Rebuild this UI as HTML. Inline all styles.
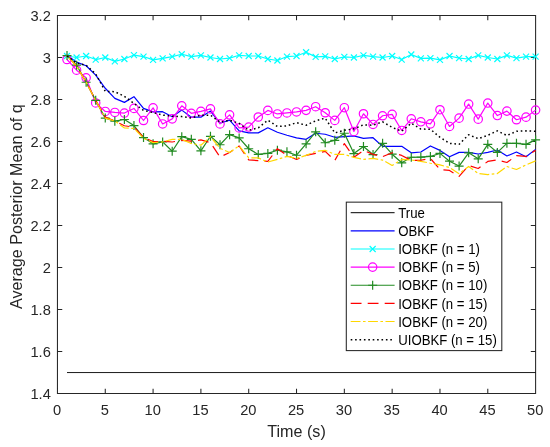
<!DOCTYPE html>
<html lang="en"><head><meta charset="utf-8"><title>Average Posterior Mean of q</title>
<style>html,body{margin:0;padding:0;background:#fff;}body{width:550px;height:447px;overflow:hidden;}figure{margin:0;padding:0;width:550px;height:447px;}</style>
</head><body>
<figure>
<svg role="img" aria-label="Average posterior mean of q versus time" width="550" height="447" viewBox="0 0 550 447" style="display:block;font-family:'Liberation Sans', Arial, Helvetica, sans-serif">
<rect x="0" y="0" width="550" height="447" fill="#fff"/>
<path d="M57.45 15.5H535.6V393.55H57.45ZM105.27 393.55V388.75M105.27 15.5V20.30M153.08 393.55V388.75M153.08 15.5V20.30M200.90 393.55V388.75M200.90 15.5V20.30M248.71 393.55V388.75M248.71 15.5V20.30M296.52 393.55V388.75M296.52 15.5V20.30M344.34 393.55V388.75M344.34 15.5V20.30M392.15 393.55V388.75M392.15 15.5V20.30M439.97 393.55V388.75M439.97 15.5V20.30M487.78 393.55V388.75M487.78 15.5V20.30M57.45 351.54H62.25M535.6 351.54H530.80M57.45 309.54H62.25M535.6 309.54H530.80M57.45 267.53H62.25M535.6 267.53H530.80M57.45 225.53H62.25M535.6 225.53H530.80M57.45 183.52H62.25M535.6 183.52H530.80M57.45 141.52H62.25M535.6 141.52H530.80M57.45 99.51H62.25M535.6 99.51H530.80M57.45 57.51H62.25M535.6 57.51H530.80" stroke="#262626" stroke-width="1.05" fill="none"/>
<g fill="none" stroke-linejoin="round">
<path d="M67.01 372.55H535.60" stroke="#000" stroke-width="0.9"/>
<polyline points="67.01,55.62 76.58,62.10 86.14,65.73 95.70,75.19 105.27,88.28 114.83,98.35 124.39,102.38 133.95,96.74 143.52,108.42 153.08,111.84 162.64,111.72 172.21,116.78 181.77,110.11 191.33,117.16 200.90,117.16 210.46,111.11 220.02,123.20 229.58,120.18 239.15,130.87 248.71,132.89 258.27,132.89 267.84,127.83 277.40,132.26 286.96,135.28 296.52,137.90 306.09,139.31 315.65,133.27 325.21,134.27 334.78,137.29 344.34,136.69 353.90,135.88 363.47,138.30 373.03,137.70 382.59,146.35 392.15,146.35 401.72,146.35 411.28,152.80 420.84,151.99 430.41,145.95 439.97,150.38 449.53,156.83 459.10,152.40 468.66,152.40 478.22,154.01 487.78,152.40 497.35,149.98 506.91,156.02 516.47,151.99 526.04,156.83 535.60,149.37" stroke="#0000ff" stroke-width="1.2"/>
<polyline points="67.01,55.98 76.58,57.48 86.14,55.98 95.70,59.58 105.27,57.48 114.83,61.38 124.39,58.98 133.95,55.08 143.52,56.58 153.08,59.88 162.64,58.38 172.21,56.58 181.77,54.22 191.33,56.58 200.90,55.38 210.46,57.48 220.02,58.98 229.58,58.08 239.15,55.32 248.71,55.98 258.27,55.98 267.84,58.98 277.40,60.48 286.96,56.58 296.52,55.98 306.09,52.24 315.65,56.88 325.21,56.40 334.78,58.98 344.34,56.88 353.90,57.48 363.47,55.38 373.03,56.58 382.59,57.48 392.15,55.98 401.72,59.58 411.28,54.48 420.84,58.38 430.41,58.08 439.97,59.88 449.53,55.98 459.10,58.08 468.66,58.98 478.22,55.38 487.78,57.48 497.35,58.98 506.91,55.38 516.47,58.08 526.04,56.58 535.60,56.58" stroke="#00ffff" stroke-width="1.15"/>
<path d="M64.01 52.98L70.01 58.98M64.01 58.98L70.01 52.98M73.58 54.48L79.58 60.48M73.58 60.48L79.58 54.48M83.14 52.98L89.14 58.98M83.14 58.98L89.14 52.98M92.70 56.58L98.70 62.58M92.70 62.58L98.70 56.58M102.27 54.48L108.27 60.48M102.27 60.48L108.27 54.48M111.83 58.38L117.83 64.38M111.83 64.38L117.83 58.38M121.39 55.98L127.39 61.98M121.39 61.98L127.39 55.98M130.95 52.08L136.95 58.08M130.95 58.08L136.95 52.08M140.52 53.58L146.52 59.58M140.52 59.58L146.52 53.58M150.08 56.88L156.08 62.88M150.08 62.88L156.08 56.88M159.64 55.38L165.64 61.38M159.64 61.38L165.64 55.38M169.21 53.58L175.21 59.58M169.21 59.58L175.21 53.58M178.77 51.22L184.77 57.22M178.77 57.22L184.77 51.22M188.33 53.58L194.33 59.58M188.33 59.58L194.33 53.58M197.90 52.38L203.90 58.38M197.90 58.38L203.90 52.38M207.46 54.48L213.46 60.48M207.46 60.48L213.46 54.48M217.02 55.98L223.02 61.98M217.02 61.98L223.02 55.98M226.58 55.08L232.58 61.08M226.58 61.08L232.58 55.08M236.15 52.32L242.15 58.32M236.15 58.32L242.15 52.32M245.71 52.98L251.71 58.98M245.71 58.98L251.71 52.98M255.27 52.98L261.27 58.98M255.27 58.98L261.27 52.98M264.84 55.98L270.84 61.98M264.84 61.98L270.84 55.98M274.40 57.48L280.40 63.48M274.40 63.48L280.40 57.48M283.96 53.58L289.96 59.58M283.96 59.58L289.96 53.58M293.52 52.98L299.52 58.98M293.52 58.98L299.52 52.98M303.09 49.24L309.09 55.24M303.09 55.24L309.09 49.24M312.65 53.88L318.65 59.88M312.65 59.88L318.65 53.88M322.21 53.40L328.21 59.40M322.21 59.40L328.21 53.40M331.78 55.98L337.78 61.98M331.78 61.98L337.78 55.98M341.34 53.88L347.34 59.88M341.34 59.88L347.34 53.88M350.90 54.48L356.90 60.48M350.90 60.48L356.90 54.48M360.47 52.38L366.47 58.38M360.47 58.38L366.47 52.38M370.03 53.58L376.03 59.58M370.03 59.58L376.03 53.58M379.59 54.48L385.59 60.48M379.59 60.48L385.59 54.48M389.15 52.98L395.15 58.98M389.15 58.98L395.15 52.98M398.72 56.58L404.72 62.58M398.72 62.58L404.72 56.58M408.28 51.48L414.28 57.48M408.28 57.48L414.28 51.48M417.84 55.38L423.84 61.38M417.84 61.38L423.84 55.38M427.41 55.08L433.41 61.08M427.41 61.08L433.41 55.08M436.97 56.88L442.97 62.88M436.97 62.88L442.97 56.88M446.53 52.98L452.53 58.98M446.53 58.98L452.53 52.98M456.10 55.08L462.10 61.08M456.10 61.08L462.10 55.08M465.66 55.98L471.66 61.98M465.66 61.98L471.66 55.98M475.22 52.38L481.22 58.38M475.22 58.38L481.22 52.38M484.78 54.48L490.78 60.48M484.78 60.48L490.78 54.48M494.35 55.98L500.35 61.98M494.35 61.98L500.35 55.98M503.91 52.38L509.91 58.38M503.91 58.38L509.91 52.38M513.47 55.08L519.47 61.08M513.47 61.08L519.47 55.08M523.04 53.58L529.04 59.58M523.04 59.58L529.04 53.58M532.60 53.58L538.60 59.58M532.60 59.58L538.60 53.58" stroke="#00ffff" stroke-width="1.15"/>
<polyline points="67.01,59.49 76.58,70.16 86.14,77.81 95.70,102.98 105.27,111.44 114.83,112.45 124.39,113.05 133.95,108.42 143.52,120.50 153.08,107.82 162.64,123.95 172.21,118.85 181.77,105.81 191.33,113.29 200.90,111.37 210.46,108.83 220.02,123.89 229.58,114.87 239.15,127.96 248.71,127.06 258.27,116.99 267.84,110.42 277.40,113.97 286.96,112.96 296.52,111.95 306.09,110.34 315.65,106.71 325.21,112.75 334.78,120.40 344.34,107.72 353.90,131.48 363.47,113.76 373.03,124.43 382.59,115.77 392.15,114.36 401.72,130.47 411.28,118.79 420.84,121.81 430.41,123.83 439.97,109.73 449.53,126.44 459.10,118.16 468.66,104.07 478.22,119.17 487.78,103.06 497.35,115.54 506.91,111.11 516.47,119.77 526.04,117.16 535.60,110.11" stroke="#ff00ff" stroke-width="1.2"/>
<g stroke="#ff00ff" stroke-width="1.2">
<circle cx="67.01" cy="59.49" r="4.2"/>
<circle cx="76.58" cy="70.16" r="4.2"/>
<circle cx="86.14" cy="77.81" r="4.2"/>
<circle cx="95.70" cy="102.98" r="4.2"/>
<circle cx="105.27" cy="111.44" r="4.2"/>
<circle cx="114.83" cy="112.45" r="4.2"/>
<circle cx="124.39" cy="113.05" r="4.2"/>
<circle cx="133.95" cy="108.42" r="4.2"/>
<circle cx="143.52" cy="120.50" r="4.2"/>
<circle cx="153.08" cy="107.82" r="4.2"/>
<circle cx="162.64" cy="123.95" r="4.2"/>
<circle cx="172.21" cy="118.85" r="4.2"/>
<circle cx="181.77" cy="105.81" r="4.2"/>
<circle cx="191.33" cy="113.29" r="4.2"/>
<circle cx="200.90" cy="111.37" r="4.2"/>
<circle cx="210.46" cy="108.83" r="4.2"/>
<circle cx="220.02" cy="123.89" r="4.2"/>
<circle cx="229.58" cy="114.87" r="4.2"/>
<circle cx="239.15" cy="127.96" r="4.2"/>
<circle cx="248.71" cy="127.06" r="4.2"/>
<circle cx="258.27" cy="116.99" r="4.2"/>
<circle cx="267.84" cy="110.42" r="4.2"/>
<circle cx="277.40" cy="113.97" r="4.2"/>
<circle cx="286.96" cy="112.96" r="4.2"/>
<circle cx="296.52" cy="111.95" r="4.2"/>
<circle cx="306.09" cy="110.34" r="4.2"/>
<circle cx="315.65" cy="106.71" r="4.2"/>
<circle cx="325.21" cy="112.75" r="4.2"/>
<circle cx="334.78" cy="120.40" r="4.2"/>
<circle cx="344.34" cy="107.72" r="4.2"/>
<circle cx="353.90" cy="131.48" r="4.2"/>
<circle cx="363.47" cy="113.76" r="4.2"/>
<circle cx="373.03" cy="124.43" r="4.2"/>
<circle cx="382.59" cy="115.77" r="4.2"/>
<circle cx="392.15" cy="114.36" r="4.2"/>
<circle cx="401.72" cy="130.47" r="4.2"/>
<circle cx="411.28" cy="118.79" r="4.2"/>
<circle cx="420.84" cy="121.81" r="4.2"/>
<circle cx="430.41" cy="123.83" r="4.2"/>
<circle cx="439.97" cy="109.73" r="4.2"/>
<circle cx="449.53" cy="126.44" r="4.2"/>
<circle cx="459.10" cy="118.16" r="4.2"/>
<circle cx="468.66" cy="104.07" r="4.2"/>
<circle cx="478.22" cy="119.17" r="4.2"/>
<circle cx="487.78" cy="103.06" r="4.2"/>
<circle cx="497.35" cy="115.54" r="4.2"/>
<circle cx="506.91" cy="111.11" r="4.2"/>
<circle cx="516.47" cy="119.77" r="4.2"/>
<circle cx="526.04" cy="117.16" r="4.2"/>
<circle cx="535.60" cy="110.11" r="4.2"/>
</g>
<polyline points="67.01,55.62 76.58,65.13 86.14,82.24 95.70,100.37 105.27,118.09 114.83,121.15 124.39,119.50 133.95,125.54 143.52,137.62 153.08,143.87 162.64,141.92 172.21,151.22 181.77,136.69 191.33,139.31 200.90,150.82 210.46,136.29 220.02,144.74 229.58,134.67 239.15,137.90 248.71,148.77 258.27,154.41 267.84,153.43 277.40,150.21 286.96,151.83 296.52,155.23 306.09,143.86 315.65,131.86 325.21,142.73 334.78,140.31 344.34,133.27 353.90,153.55 363.47,146.50 373.03,154.56 382.59,143.33 392.15,154.18 401.72,162.80 411.28,157.26 420.84,157.07 430.41,156.47 439.97,153.40 449.53,161.19 459.10,166.09 468.66,152.80 478.22,158.84 487.78,144.34 497.35,152.42 506.91,143.33 516.47,143.33 526.04,144.34 535.60,139.91" stroke="#228b22" stroke-width="1.2"/>
<path d="M62.51 55.62H71.51M67.01 51.12V60.12M72.08 65.13H81.08M76.58 60.63V69.63M81.64 82.24H90.64M86.14 77.74V86.74M91.20 100.37H100.20M95.70 95.87V104.87M100.77 118.09H109.77M105.27 113.59V122.59M110.33 121.15H119.33M114.83 116.65V125.65M119.89 119.50H128.89M124.39 115.00V124.00M129.45 125.54H138.45M133.95 121.04V130.04M139.02 137.62H148.02M143.52 133.12V142.12M148.58 143.87H157.58M153.08 139.37V148.37M158.14 141.92H167.14M162.64 137.42V146.42M167.71 151.22H176.71M172.21 146.72V155.72M177.27 136.69H186.27M181.77 132.19V141.19M186.83 139.31H195.83M191.33 134.81V143.81M196.40 150.82H205.40M200.90 146.32V155.32M205.96 136.29H214.96M210.46 131.79V140.79M215.52 144.74H224.52M220.02 140.24V149.24M225.08 134.67H234.08M229.58 130.17V139.17M234.65 137.90H243.65M239.15 133.40V142.40M244.21 148.77H253.21M248.71 144.27V153.27M253.77 154.41H262.77M258.27 149.91V158.91M263.34 153.43H272.34M267.84 148.93V157.93M272.90 150.21H281.90M277.40 145.71V154.71M282.46 151.83H291.46M286.96 147.33V156.33M292.02 155.23H301.02M296.52 150.73V159.73M301.59 143.86H310.59M306.09 139.36V148.36M311.15 131.86H320.15M315.65 127.36V136.36M320.71 142.73H329.71M325.21 138.23V147.23M330.28 140.31H339.28M334.78 135.81V144.81M339.84 133.27H348.84M344.34 128.77V137.77M349.40 153.55H358.40M353.90 149.05V158.05M358.97 146.50H367.97M363.47 142.00V151.00M368.53 154.56H377.53M373.03 150.06V159.06M378.09 143.33H387.09M382.59 138.83V147.83M387.65 154.18H396.65M392.15 149.68V158.68M397.22 162.80H406.22M401.72 158.30V167.30M406.78 157.26H415.78M411.28 152.76V161.76M416.34 157.07H425.34M420.84 152.57V161.57M425.91 156.47H434.91M430.41 151.97V160.97M435.47 153.40H444.47M439.97 148.90V157.90M445.03 161.19H454.03M449.53 156.69V165.69M454.60 166.09H463.60M459.10 161.59V170.59M464.16 152.80H473.16M468.66 148.30V157.30M473.72 158.84H482.72M478.22 154.34V163.34M483.28 144.34H492.28M487.78 139.84V148.84M492.85 152.42H501.85M497.35 147.92V156.92M502.41 143.33H511.41M506.91 138.83V147.83M511.97 143.33H520.97M516.47 138.83V147.83M521.54 144.34H530.54M526.04 139.84V148.84M531.10 139.91H540.10M535.60 135.41V144.41" stroke="#228b22" stroke-width="1.2"/>
<polyline points="67.01,55.62 76.58,66.13 86.14,82.24 95.70,100.37 105.27,117.08 114.83,120.94 124.39,125.74 133.95,127.15 143.52,137.22 153.08,141.65 162.64,141.32 172.21,141.99 181.77,140.40 191.33,141.15 200.90,139.91 210.46,142.73 220.02,157.10 229.58,152.48 239.15,146.00 248.71,159.91 258.27,160.60 267.84,161.46 277.40,148.64 286.96,155.42 296.52,159.44 306.09,155.42 315.65,153.40 325.21,151.39 334.78,160.49 344.34,143.62 353.90,157.26 363.47,150.38 373.03,154.41 382.59,156.68 392.15,152.80 401.72,155.42 411.28,160.42 420.84,160.28 430.41,158.44 439.97,169.45 449.53,170.42 459.10,176.38 468.66,165.48 478.22,168.50 487.78,161.46 497.35,159.85 506.91,162.51 516.47,155.67 526.04,156.42 535.60,150.38" stroke="#ff0000" stroke-width="1.2" stroke-dasharray="10.8 6.2" stroke-dashoffset="-3"/>
<polyline points="67.01,55.62 76.58,66.13 86.14,82.24 95.70,100.37 105.27,118.09 114.83,120.94 124.39,127.99 133.95,128.39 143.52,138.23 153.08,142.66 162.64,141.92 172.21,139.31 181.77,139.35 191.33,143.45 200.90,145.20 210.46,136.69 220.02,148.37 229.58,152.44 239.15,145.72 248.71,157.85 258.27,157.91 267.84,162.06 277.40,159.44 286.96,156.42 296.52,158.44 306.09,155.42 315.65,151.39 325.21,150.38 334.78,154.41 344.34,154.41 353.90,157.43 363.47,159.44 373.03,158.44 382.59,160.05 392.15,165.48 401.72,159.44 411.28,160.05 420.84,161.29 430.41,163.24 439.97,164.88 449.53,167.50 459.10,173.79 468.66,166.49 478.22,173.54 487.78,174.55 497.35,173.54 506.91,166.49 516.47,169.51 526.04,164.88 535.60,160.85" stroke="#ffd700" stroke-width="1.2" stroke-dasharray="9.8 2.5 2.6 2.5" stroke-dashoffset="-3"/>
<polyline points="67.01,55.83 76.58,63.11 86.14,65.29 95.70,73.93 105.27,91.32 114.83,91.71 124.39,96.34 133.95,103.39 143.52,110.43 153.08,112.45 162.64,115.14 172.21,116.15 181.77,116.59 191.33,118.00 200.90,115.14 210.46,115.14 220.02,122.19 229.58,120.18 239.15,123.36 248.71,130.29 258.27,127.82 267.84,120.18 277.40,126.47 286.96,125.87 296.52,122.67 306.09,125.25 315.65,120.81 325.21,118.16 334.78,132.89 344.34,130.24 353.90,128.86 363.47,124.83 373.03,125.24 382.59,121.81 392.15,127.39 401.72,131.25 411.28,123.20 420.84,129.07 430.41,129.24 439.97,137.29 449.53,143.33 459.10,144.34 468.66,134.67 478.22,138.70 487.78,135.28 497.35,130.85 506.91,135.55 516.47,131.25 526.04,130.85 535.60,131.25" stroke="#000" stroke-width="1.5" stroke-dasharray="1.6 2.8"/>
</g>
<g fill="#262626" font-size="14.67" text-anchor="middle">
<text transform="translate(57.05,415.3) scale(1,1.04)">0</text>
<text transform="translate(104.86,415.3) scale(1,1.04)">5</text>
<text transform="translate(152.68,415.3) scale(1,1.04)">10</text>
<text transform="translate(200.50,415.3) scale(1,1.04)">15</text>
<text transform="translate(248.31,415.3) scale(1,1.04)">20</text>
<text transform="translate(296.12,415.3) scale(1,1.04)">25</text>
<text transform="translate(343.94,415.3) scale(1,1.04)">30</text>
<text transform="translate(391.75,415.3) scale(1,1.04)">35</text>
<text transform="translate(439.57,415.3) scale(1,1.04)">40</text>
<text transform="translate(487.38,415.3) scale(1,1.04)">45</text>
<text transform="translate(535.20,415.3) scale(1,1.04)">50</text>
</g>
<g fill="#262626" font-size="14.67" text-anchor="end">
<text transform="translate(50.8,399.30) scale(1,1.04)">1.4</text>
<text transform="translate(50.8,357.29) scale(1,1.04)">1.6</text>
<text transform="translate(50.8,315.29) scale(1,1.04)">1.8</text>
<text transform="translate(50.8,273.28) scale(1,1.04)">2</text>
<text transform="translate(50.8,231.28) scale(1,1.04)">2.2</text>
<text transform="translate(50.8,189.27) scale(1,1.04)">2.4</text>
<text transform="translate(50.8,147.27) scale(1,1.04)">2.6</text>
<text transform="translate(50.8,105.26) scale(1,1.04)">2.8</text>
<text transform="translate(50.8,63.26) scale(1,1.04)">3</text>
<text transform="translate(50.8,21.25) scale(1,1.04)">3.2</text>
</g>
<text transform="translate(296.53,436.8) scale(1,1.04)" text-anchor="middle" font-size="16.13" fill="#262626">Time (s)</text>
<text transform="translate(21.8,206.62) rotate(-90) scale(1,1.04)" text-anchor="middle" font-size="16.13" fill="#262626">Average Posterior Mean of q</text>
<rect x="346.3" y="202.15" width="155.50" height="148.45" fill="#fff" stroke="#262626" stroke-width="1.05"/>
<g fill="none">
<path d="M350.7 212.70H394.6" stroke="#000" stroke-width="1"/>
<path d="M350.7 230.84H394.6" stroke="#0000ff" stroke-width="1.1"/>
<path d="M350.7 248.98H394.6" stroke="#00ffff" stroke-width="1.15"/>
<path d="M369.65 245.98L375.65 251.98M369.65 251.98L375.65 245.98" stroke="#00ffff" stroke-width="1.15"/>
<path d="M350.7 267.12H394.6" stroke="#ff00ff" stroke-width="1.1"/>
<circle cx="372.65" cy="267.12" r="4.2" stroke="#ff00ff" stroke-width="1.2"/>
<path d="M350.7 285.26H394.6" stroke="#228b22" stroke-width="1.1"/>
<path d="M368.15 285.26H377.15M372.65 280.76V289.76" stroke="#228b22" stroke-width="1.2"/>
<path d="M350.7 303.40H394.6" stroke="#ff0000" stroke-width="1.1" stroke-dasharray="10.8 6.2"/>
<path d="M350.7 321.54H394.6" stroke="#ffd700" stroke-width="1.1" stroke-dasharray="9.8 2.5 2.6 2.5"/>
<path d="M350.7 339.68H394.6" stroke="#000" stroke-width="1.5" stroke-dasharray="1.6 2.8"/>
</g>
<g font-size="13.2" fill="#000">
<text transform="translate(398.2,217.80) scale(1,1.06)">True</text>
<text transform="translate(398.2,235.94) scale(1,1.06)">OBKF</text>
<text transform="translate(398.2,254.08) scale(1,1.06)">IOBKF (n = 1)</text>
<text transform="translate(398.2,272.22) scale(1,1.06)">IOBKF (n = 5)</text>
<text transform="translate(398.2,290.36) scale(1,1.06)">IOBKF (n = 10)</text>
<text transform="translate(398.2,308.50) scale(1,1.06)">IOBKF (n = 15)</text>
<text transform="translate(398.2,326.64) scale(1,1.06)">IOBKF (n = 20)</text>
<text transform="translate(398.2,344.78) scale(1,1.06)">UIOBKF (n = 15)</text>
</g>
</svg>
</figure>
</body></html>
